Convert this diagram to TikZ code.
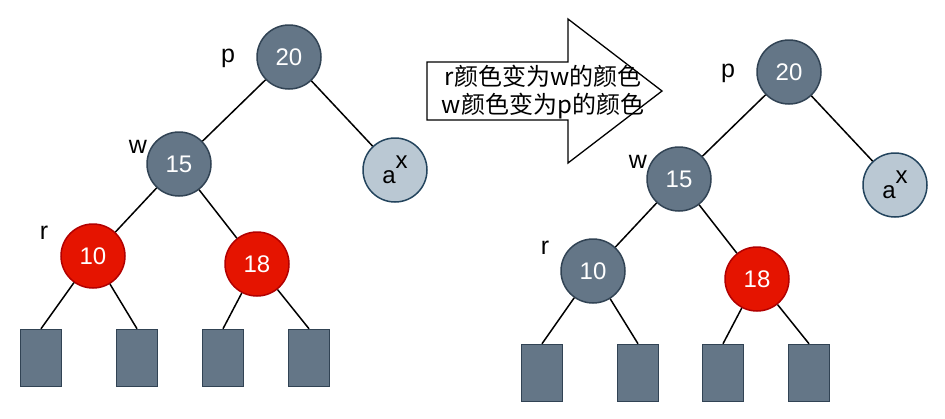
\documentclass[tikz,border=0pt]{standalone}
\usepackage{fontspec}
\setmainfont{Liberation Sans}
\newfontfamily\cjk{Noto Sans CJK SC}
\usepackage{xcolor}
\usetikzlibrary{positioning}
\definecolor{ndgray}{HTML}{647687}
\definecolor{ndgrayln}{HTML}{314354}
\definecolor{ndred}{HTML}{E51400}
\definecolor{ndredln}{HTML}{B20000}
\definecolor{ndlite}{HTML}{BAC8D3}
\definecolor{ndliteln}{HTML}{23445D}

\begin{document}
\begin{tikzpicture}[
  x=1pt, y=-1pt,
  font=\fontsize{24}{28}\selectfont,
  rb/.style={circle, minimum size=64pt, inner sep=0pt, line width=1.5pt, text=white},
  bnode/.style={rb, fill=ndgray, draw=ndgrayln},
  rnode/.style={rb, fill=ndred, draw=ndredln},
  xnode/.style={rb, fill=ndlite, draw=ndliteln, text=black},
  leaf/.style={rectangle, minimum width=41pt, minimum height=57pt, inner sep=0pt,
    fill=ndgray, draw=ndgrayln, line width=1.5pt},
  lbl/.style={anchor=base, inner sep=0pt, font=\fontsize{25}{28}\selectfont},
  edge/.style={line width=1.5pt}
]
\useasboundingbox (0,0) rectangle (945,418);
% before
\node[bnode] (l20) at (289,57) {20};
\node[bnode] (l15) at (179,164) {15};
\node[xnode] (lx) at (395,170) {a\raisebox{0.62em}{x}};
\node[rnode] (l10) at (93,256) {10};
\node[rnode] (l18) at (257,264) {18};
\node[leaf] (l10a) at (41,358) {};
\node[leaf] (l10b) at (137,358) {};
\node[leaf] (l18a) at (223,358) {};
\node[leaf] (l18b) at (309,358) {};
\node[lbl] (lp) at (228,62) {p};
\node[lbl] (lw) at (138,153) {w};
\node[lbl] (lr) at (44,239) {r};
\draw[edge] (l20)--(l15);
\draw[edge] (l20)--(lx);
\draw[edge] (l15)--(l10);
\draw[edge] (l15)--(l18);
\draw[edge] (l10)--(l10a.north);
\draw[edge] (l10)--(l10b.north);
\draw[edge] (l18)--(l18a.north);
\draw[edge] (l18)--(l18b.north);
% arrow
\draw[line width=1.3pt, fill=white] (427,62) -- (568,62) -- (568,19) -- (662,91)
  -- (568,163) -- (568,120) -- (427,120) -- cycle;
\node[align=center, inner sep=0pt, font=\cjk\fontsize{24}{28}\selectfont] (msg) at (543,92)
  {r颜色变为w的颜色\\w颜色变为p的颜色};
% after
\begin{scope}[shift={(500,15)}]
\node[bnode] (r20) at (289,57) {20};
\node[bnode] (r15) at (179,164) {15};
\node[xnode] (rx) at (395,170) {a\raisebox{0.62em}{x}};
\node[bnode] (r10) at (93,256) {10};
\node[rnode] (r18) at (257,264) {18};
\node[leaf] (r10a) at (42,358) {};
\node[leaf] (r10b) at (138,358) {};
\node[leaf] (r18a) at (223,358) {};
\node[leaf] (r18b) at (309,358) {};
\node[lbl] (rp) at (228,62) {p};
\node[lbl] (rw) at (138,153) {w};
\node[lbl] (rr) at (45,239) {r};
\draw[edge] (r20)--(r15);
\draw[edge] (r20)--(rx);
\draw[edge] (r15)--(r10);
\draw[edge] (r15)--(r18);
\draw[edge] (r10)--(r10a.north);
\draw[edge] (r10)--(r10b.north);
\draw[edge] (r18)--(r18a.north);
\draw[edge] (r18)--(r18b.north);
\end{scope}
\end{tikzpicture}
\end{document}
